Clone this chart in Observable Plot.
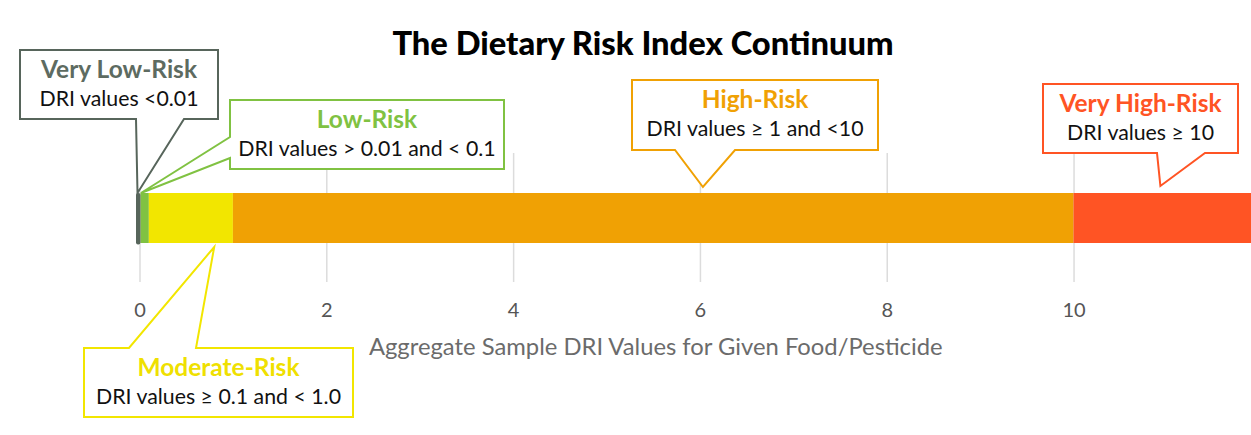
<!DOCTYPE html>
<html>
<head>
<meta charset="utf-8">
<script src="https://cdn.jsdelivr.net/npm/d3@7"></script>
<script src="https://cdn.jsdelivr.net/npm/@observablehq/plot@0.6"></script>
<style>
  html, body { margin: 0; padding: 0; background: #fff; }
  #wrap { position: relative; width: 1251px; height: 435px; overflow: hidden; }
  #title {
    position: absolute; top: 23px; left: 0; width: 1251px; box-sizing: border-box;
    padding-left: 35px; text-align: center; margin: 0;
    font-family: Lato, "Open Sans", sans-serif; font-weight: 900; font-size: 32.7px;
    line-height: 40px; color: #000; z-index: 2; pointer-events: none;
  }
</style>
</head>
<body>
<div id="wrap">
  <div id="chart"></div>
  <h1 id="title">The Dietary Risk Index Continuum</h1>
</div>
<script>
// ---- data ----
const categories = ["Very Low-Risk", "Low-Risk", "Moderate-Risk", "High-Risk", "Very High-Risk"];
const rangeStart = [0, 0.01, 0.1, 1, 10];
const rangeEnd = [0.01, 0.1, 1, 10, 11.9];
const rangeText = ["DRI values <0.01", "DRI values > 0.01 and < 0.1", "DRI values \u2265 0.1 and < 1.0", "DRI values \u2265 1 and <10", "DRI values \u2265 10"];
const tickValues = [0, 2, 4, 6, 8, 10];
const xMax = 11.9;
const axisLabel = "Aggregate Sample DRI Values for Given Food/Pesticide";

// ---- styles ----
const fills = ["#57655b", "#80c242", "#f2e600", "#f0a104", "#ff5424"];
const headColors = ["#5d6b61", "#80c242", "#efe000", "#f0a104", "#ff5424"];

const table = categories.map((c, i) => ({category: c, start: rangeStart[i], end: rangeEnd[i], text: rangeText[i], color: fills[i]}));

const plot = Plot.plot({
  width: 1251,
  height: 435,
  marginLeft: 139.5,
  marginRight: 0,
  marginTop: 153,
  marginBottom: 153,
  style: {fontFamily: "Lato, 'Open Sans', sans-serif", fontSize: "20px", color: "#555", background: "transparent", overflow: "visible"},
  x: {domain: [0, xMax], ticks: tickValues, tickSize: 0, tickPadding: 20, label: null, tickFormat: d => String(d)},
  y: {type: "band", domain: ["DRI"], range: [193, 243], padding: 0, axis: null},
  color: {type: "identity"},
  marks: [
    Plot.ruleX(tickValues, {stroke: "#dcdcdc", strokeWidth: 1.5}),
    Plot.barX(table.slice(1), {x1: "start", x2: "end", y: () => "DRI", fill: "color"}),
    Plot.barX(table.slice(0, 1), {x1: "start", x2: "end", y: () => "DRI", fill: "color", insetLeft: -3.5, insetBottom: -1.5, rx: 2}),
    Plot.text([axisLabel], {frameAnchor: "bottom", dy: 65, dx: -40, lineAnchor: "middle", fontSize: 23.8, fill: "#6b6b6b"})
  ]
});
document.getElementById("chart").appendChild(plot);

// ---- callout annotations (layout only; tips placed via the x scale) ----
const sx = plot.scale("x");
const barTop = 193, barBottom = 243;
const callouts = [
  {i: 0, tip: [sx.apply(0) - 2, barTop], box: [20, 50, 218, 119], side: "bottom", base: [136, 184]},
  {i: 1, tip: [sx.apply(0.01) + 0.5, barTop], box: [230, 100, 504, 169], side: "left", base: [137, 158]},
  {i: 2, tip: [sx.apply(0.8), barBottom + 4], box: [84, 348, 353, 417], side: "top", base: [129, 196]},
  {i: 3, tip: [sx.apply(6) + 3, barTop - 6], box: [632, 80, 878, 150], side: "bottom", base: [675, 735]},
  {i: 4, tip: [sx.apply(10.93), barTop - 7], box: [1043, 84, 1238, 153], side: "bottom", base: [1157, 1205]}
];

const svg = d3.select(plot);
const g = svg.append("g").attr("aria-label", "callouts");
for (const c of callouts) {
  const [x0, y0, x1, y1] = c.box;
  const [a, b] = c.base;
  const t = c.tip;
  let pts;
  if (c.side === "bottom") pts = [[x0, y0], [x1, y0], [x1, y1], [b, y1], t, [a, y1], [x0, y1]];
  else if (c.side === "top") pts = [[x0, y0], [a, y0], t, [b, y0], [x1, y0], [x1, y1], [x0, y1]];
  else pts = [[x0, y0], [x1, y0], [x1, y1], [x0, y1], [x0, b], t, [x0, a]];
  const d = table[c.i];
  g.append("path")
    .attr("d", "M" + pts.map(p => p.join(",")).join("L") + "Z")
    .attr("fill", "#fff")
    .attr("stroke", fills[c.i])
    .attr("stroke-width", 2)
    .attr("stroke-linejoin", "miter");
  const cx = (x0 + x1) / 2;
  g.append("text")
    .attr("x", cx).attr("y", y0 + 27.5)
    .attr("text-anchor", "middle")
    .attr("font-size", 24.5).attr("font-weight", 700)
    .attr("fill", headColors[c.i])
    .text(d.category);
  g.append("text")
    .attr("x", cx).attr("y", y0 + 56)
    .attr("text-anchor", "middle")
    .attr("font-size", 21.3)
    .attr("fill", "#111")
    .text(d.text);
}
</script>
</body>
</html>
